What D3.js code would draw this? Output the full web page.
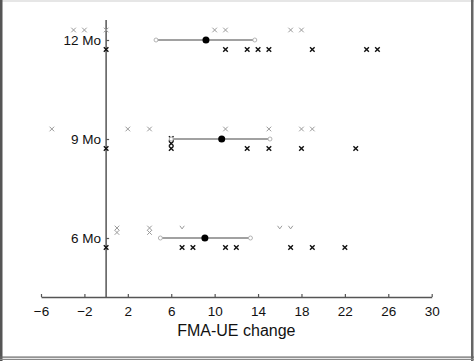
<!DOCTYPE html>
<html><head><meta charset="utf-8">
<script src="https://cdn.jsdelivr.net/npm/d3@7"></script>
<style>
html,body{margin:0;padding:0;background:#fff;}
svg{display:block;font-family:"Liberation Sans",Arial,sans-serif;}
</style></head>
<body>
<svg id="chart" width="474" height="361"></svg>
<script>
const categories = ['12 Mo', '9 Mo', '6 Mo'];
const xTicks = [-6, -2, 2, 6, 10, 14, 18, 22, 26, 30];
const means = [9.2, 10.65, 9.1];
const ciLow = [4.6, 6.0, 5.0];
const ciHigh = [13.7, 15.1, 13.3];
// upper (gray) markers per category
const grayValues = [
  [-3, -2, 0, 10, 11, 17, 18],
  [-5, 2, 4, 11, 15, 18, 19],
  [1, 1, 4, 4, 7, 16, 17]
];
const grayShapes = [
  ['x','x','x','x','x','x','x'],
  ['x','x','x','x','x','x','x'],
  ['x','x','x','x','v','v','v']
];
// lower (black) markers per category
const blackValues = [
  [0, 11, 13, 14, 15, 19, 24, 25],
  [0, 6, 6, 6, 13, 15, 18, 23],
  [0, 7, 8, 11, 12, 17, 19, 22]
];
const xLabel = 'FMA-UE change';

const svg = d3.select('#chart');
// frame
svg.append('rect').attr('x',0).attr('y',0).attr('width',474).attr('height',2).attr('fill','#e6e6e6');
svg.append('rect').attr('x',0).attr('y',0).attr('width',2.5).attr('height',361).attr('fill','#555');
svg.append('rect').attr('x',471).attr('y',0).attr('width',2.5).attr('height',361).attr('fill','#666');
svg.append('rect').attr('x',0).attr('y',356.5).attr('width',474).attr('height',1.2).attr('fill','#666');
svg.append('rect').attr('x',0).attr('y',358.8).attr('width',474).attr('height',1.2).attr('fill','#888');

const x = d3.scaleLinear().domain([-6, 30]).range([41, 431.7]);
const y = d3.scalePoint().domain(categories).range([40, 238]);
const axisY = 297;

// x axis
const xAxis = d3.axisBottom(x).tickValues(xTicks).tickSize(-3).tickPadding(8).tickSizeOuter(0);
const gx = svg.append('g').attr('transform', `translate(0,${axisY})`).call(xAxis);
gx.select('.domain').attr('stroke','#555').attr('stroke-width',1.5);
gx.selectAll('.tick line').attr('stroke','#555').attr('stroke-width',1.2);
gx.selectAll('.tick text').attr('font-size',13.5).attr('fill','#111').attr('font-family','"Liberation Sans",Arial,sans-serif').attr('dy','0.85em');

svg.append('text').attr('x', (x(-6)+x(30))/2).attr('y', 336).attr('text-anchor','middle')
  .attr('font-size',16).attr('fill','#111').text(xLabel);

// zero line / y axis
const yAxis = d3.axisRight(y).tickSize(3).tickFormat('');
const gy = svg.append('g').attr('transform', `translate(${x(0)},0)`).call(yAxis);
gy.select('.domain').remove();
gy.selectAll('.tick line').attr('stroke','#555').attr('stroke-width',1.2);
svg.append('line').attr('x1',x(0)).attr('x2',x(0)).attr('y1',20).attr('y2',axisY)
  .attr('stroke','#555').attr('stroke-width',1.5);
svg.selectAll('.ylab').data(categories).enter().append('text')
  .attr('class','ylab').attr('x', x(0)-5).attr('y', d => y(d)+5)
  .attr('text-anchor','end').attr('font-size',13.5).attr('fill','#111').text(d => d);

function xPath(s){ return `M${-s},${-s}L${s},${s}M${-s},${s}L${s},${-s}`; }
function vPath(s){ return `M${-s},${-s}L0,${s*0.4}L${s},${-s}`; }

// gray markers (upper)
categories.forEach((c, i) => {
  const counts = {};
  const pts = grayValues[i].map((v, j) => {
    const k = counts[v] || 0; counts[v] = k + 1;
    return {v, k, shape: grayShapes[i][j]};
  });
  svg.append('g').selectAll('path').data(pts).enter().append('path')
    .attr('transform', d => `translate(${x(d.v)},${y(c) - 10 + d.k*4.5})`)
    .attr('d', d => d.shape === 'v' ? vPath(2.2) : xPath(2.3))
    .attr('fill','none').attr('stroke','#9a9a9a').attr('stroke-width',1);
});

// black markers (lower)
categories.forEach((c, i) => {
  const counts = {};
  const pts = blackValues[i].map(v => {
    const k = counts[v] || 0; counts[v] = k + 1;
    return {v, k};
  });
  svg.append('g').selectAll('path').data(pts).enter().append('path')
    .attr('transform', d => `translate(${x(d.v)},${y(c) + 9.5 - d.k*5})`)
    .attr('d', xPath(2.3))
    .attr('fill','none').attr('stroke','#111').attr('stroke-width',1.4);
});

// mean +/- interval
const g = svg.append('g');
categories.forEach((c, i) => {
  g.append('line').attr('x1', x(ciLow[i])).attr('x2', x(ciHigh[i]))
    .attr('y1', y(c)).attr('y2', y(c)).attr('stroke','#444').attr('stroke-width',1.2);
  [ciLow[i], ciHigh[i]].forEach(v => {
    g.append('circle').attr('cx', x(v)).attr('cy', y(c)).attr('r', 2)
      .attr('fill','#fff').attr('stroke','#aaa').attr('stroke-width',0.9);
  });
  g.append('circle').attr('cx', x(means[i])).attr('cy', y(c)).attr('r', 3.5).attr('fill','#000');
});
</script>
</body></html>
